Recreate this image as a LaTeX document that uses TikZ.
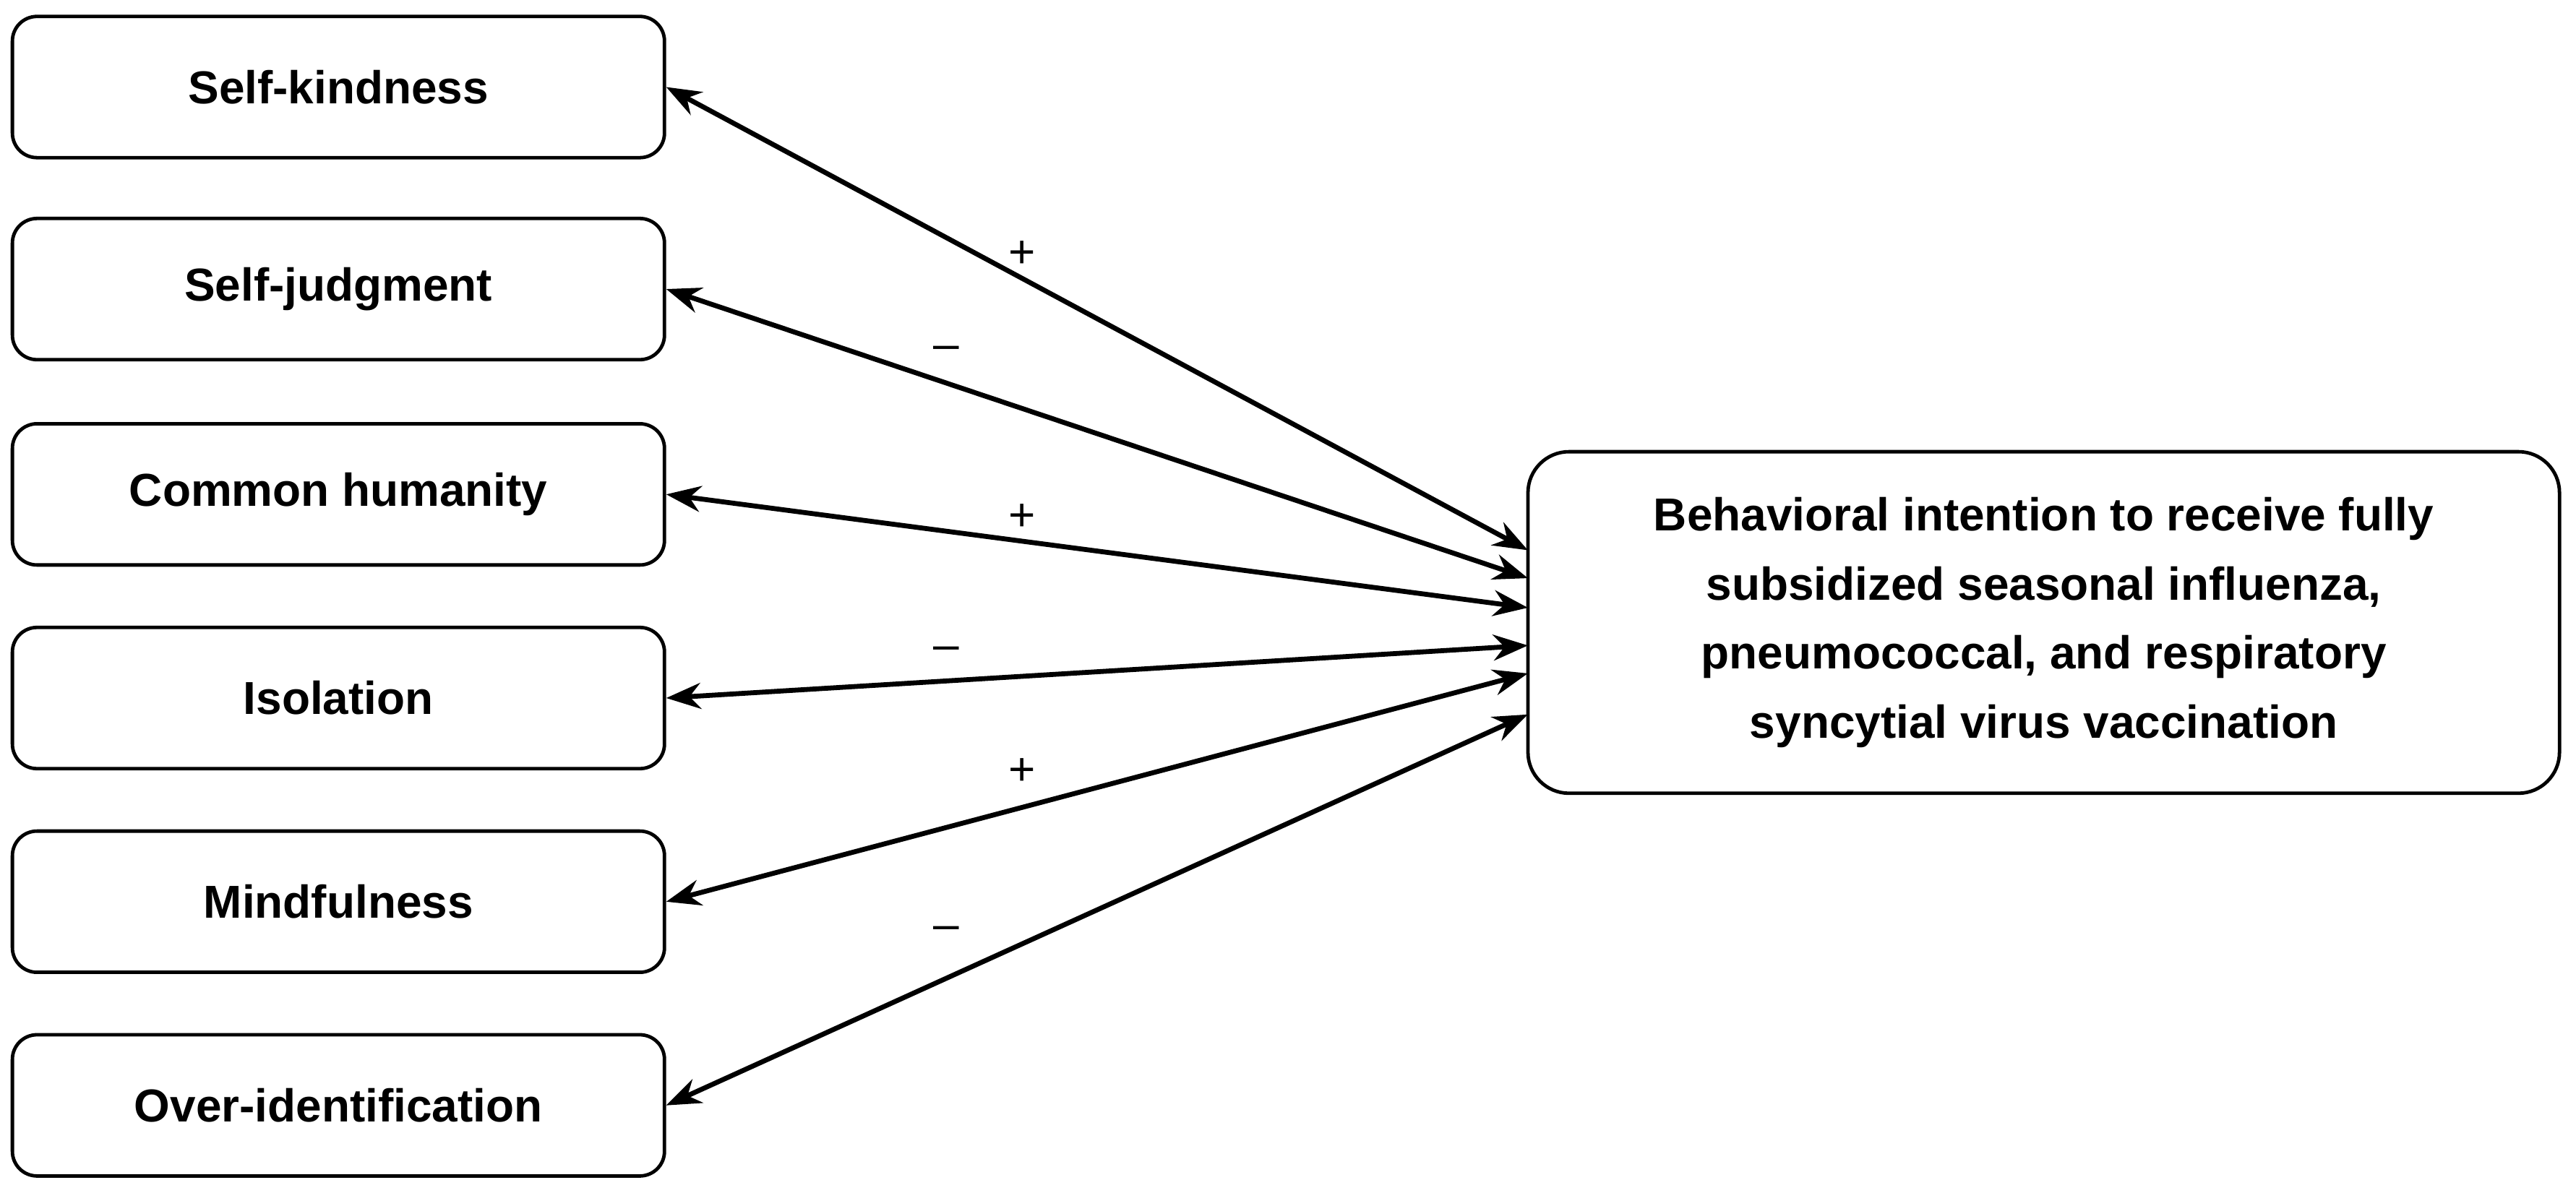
\documentclass[tikz,border=0pt]{standalone}
\usepackage{fontspec}
\setmainfont{Liberation Sans}
\usetikzlibrary{arrows.meta}
\begin{document}
\begin{tikzpicture}[x=0.02cm,y=-0.02cm]
\tikzstyle{factor}=[draw, line width=1.2pt, rounded corners=0.3cm, minimum width=7.94cm, minimum height=1.72cm, font=\fontsize{16}{20}\selectfont\bfseries]
\tikzstyle{link}=[line width=1.7pt, {Stealth[length=12pt,width=9pt]}-{Stealth[length=12pt,width=9pt]}]
\tikzstyle{sign}=[font=\fontsize{16}{20}\selectfont]
\useasboundingbox (0,0) rectangle (1568,726);

\draw (206,53) node[factor] (sk) {Self-kindness};
\draw (206,176) node[factor] (sj) {Self-judgment};
\draw (206,301) node[factor] (ch) {Common humanity};
\draw (206,425) node[factor] (iso) {Isolation};
\draw (206,549) node[factor] (mf) {Mindfulness};
\draw (206,673) node[factor] (oi) {Over-identification};
\draw (1244,379) node[factor, minimum width=12.56cm, minimum height=4.16cm, align=center, rounded corners=0.5cm, font=\fontsize{16}{24}\selectfont\bfseries] (beh) {Behavioral intention to receive fully\\subsidized seasonal influenza,\\pneumococcal, and respiratory\\syncytial virus vaccination};

\coordinate (b1) at (930,335);
\coordinate (b2) at (930,352);
\coordinate (b3) at (930,370);
\coordinate (b4) at (930,393);
\coordinate (b5) at (930,410);
\coordinate (b6) at (930,435);

\draw[link] (sk.east) -- (b1);
\draw[link] (sj.east) -- (b2);
\draw[link] (ch.east) -- (b3);
\draw[link] (iso.east) -- (b4);
\draw[link] (mf.east) -- (b5);
\draw[link] (oi.east) -- (b6);

\node[sign] (s1) at (622,155) {+};
\node[sign] (s2) at (576,215) {\textendash};
\node[sign] (s3) at (622,315) {+};
\node[sign] (s4) at (576,398) {\textendash};
\node[sign] (s5) at (622,470) {+};
\node[sign] (s6) at (576,568) {\textendash};
\end{tikzpicture}
\end{document}
